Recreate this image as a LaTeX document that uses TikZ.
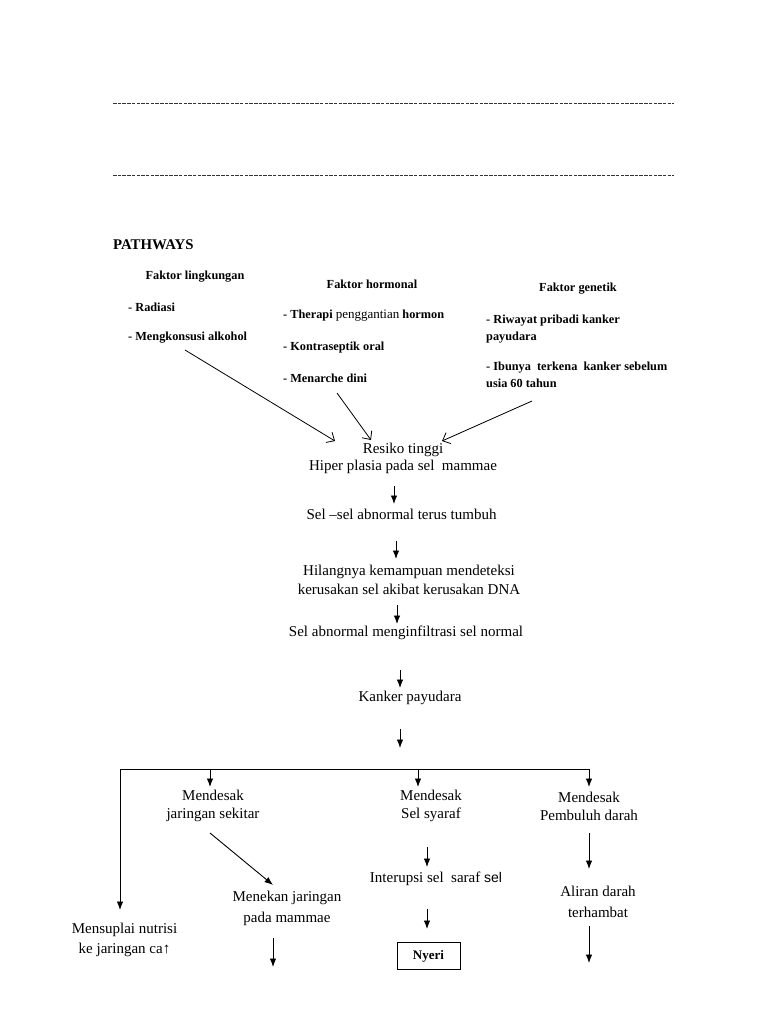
\documentclass[tikz,border=0pt]{standalone}
\usepackage{fontspec}
\setmainfont{Liberation Serif}
\setsansfont{Liberation Sans}
\usetikzlibrary{arrows.meta,calc}
\begin{document}
\begin{tikzpicture}[x=1pt,y=-1pt,
  txt/.style={font=\fontsize{15}{18}\selectfont, inner sep=0pt, align=center},
  hd/.style={font=\bfseries\fontsize{12.3}{17.5}\selectfont, inner sep=0pt, align=left},
  arr/.style={-{Latex[length=8.5pt,width=6.5pt]}, line width=0.9pt},
  openarr/.style={-{Straight Barb[length=6.5pt,width=12pt]}, line width=0.8pt},
  plain/.style={line width=0.9pt},
  dashline/.style={line width=0.9pt, black!80, dash pattern=on 3.5pt off 1.2pt}]
\useasboundingbox (0,0) rectangle (768,1024);
% header dashed lines
\coordinate (d1a) at (113,103); \coordinate (d1b) at (674,103);
\coordinate (d2a) at (113,175); \coordinate (d2b) at (674,175);
\draw[dashline] (d1a) -- (d1b);
\draw[dashline] (d2a) -- (d2b);
\node[anchor=west, inner sep=0pt, font=\bfseries\fontsize{14.8}{16}\selectfont] (pw) at (113,245) {PATHWAYS};
% factors
\node[hd] (fl) at (195,277) {Faktor lingkungan};
\node[hd, anchor=west] (l1) at (128,307) {- Radiasi};
\node[hd, anchor=west] (l2) at (128,338) {- Mengkonsusi alkohol};
\node[hd] (fh) at (372,284) {Faktor hormonal};
\node[hd, anchor=west] (h1) at (283,316) {- Therapi {\mdseries\fontsize{13}{14}\selectfont penggantian} hormon};
\node[hd, anchor=west] (h2) at (283,348) {- Kontraseptik oral};
\node[hd, anchor=west] (h3) at (283,378) {- Menarche dini};
\node[hd] (fg) at (578,289) {Faktor genetik};
\node[hd, anchor=west] (g1) at (486,329) {- Riwayat pribadi kanker\\payudara};
\node[hd, anchor=west] (g2) at (486,375) {- Ibunya\ \ terkena\ \ kanker sebelum\\usia 60 tahun};
% main chain
\node[txt, font=\fontsize{15}{17.5}\selectfont] (r) at (403,458.5) {Resiko tinggi\\Hiper plasia pada sel\ \ mammae};
\node[txt] (s) at (401.5,514) {Sel –sel abnormal terus tumbuh};
\node[txt, font=\fontsize{15}{19}\selectfont] (h) at (409,580) {Hilangnya kemampuan mendeteksi\\kerusakan sel akibat kerusakan DNA};
\node[txt] (i) at (406,633) {Sel abnormal menginfiltrasi sel normal};
\node[txt] (k) at (410,698) {Kanker payudara};
% arrows into resiko
\coordinate (a1s) at (185,350); \coordinate (a1e) at (335,441);
\coordinate (a2s) at (337,393); \coordinate (a2e) at (371,440);
\coordinate (a3s) at (532,401); \coordinate (a3e) at (442,441);
\draw[openarr] (a1s) -- (a1e);
\draw[openarr] (a2s) -- (a2e);
\draw[openarr] (a3s) -- (a3e);
% chain arrows
\coordinate (c1s) at (394,486); \coordinate (c1e) at (394,504);
\coordinate (c2s) at (396,541); \coordinate (c2e) at (396,559);
\coordinate (c3s) at (397,605); \coordinate (c3e) at (397,624);
\coordinate (c4s) at (400,670); \coordinate (c4e) at (400,688);
\coordinate (c5s) at (400,729); \coordinate (c5e) at (400,748);
\draw[arr] (c1s) -- (c1e);
\draw[arr] (c2s) -- (c2e);
\draw[arr] (c3s) -- (c3e);
\draw[arr] (c4s) -- (c4e);
\draw[arr] (c5s) -- (c5e);
% bus
\coordinate (b0) at (120,769); \coordinate (b1) at (210,769);
\coordinate (b2) at (418,769); \coordinate (b3) at (589,769);
\draw[plain] (b0) -- (b3);
\node[txt] (m1) at (213,806) {Mendesak\\jaringan sekitar};
\node[txt] (m2) at (431,806) {Mendesak\\Sel syaraf};
\node[txt] (m3) at (589,806) {Mendesak\\Pembuluh darah};
\draw[arr] (b1) -- (210,787);
\draw[arr] (b2) -- (418,787);
\draw[arr] (b3) -- (589,787);
% lower nodes
\node[txt, font=\fontsize{15}{20}\selectfont] (n1) at (124.5,940) {Mensuplai nutrisi\\ke jaringan ca↑};
\node[txt, font=\fontsize{15}{21}\selectfont] (n2) at (287,908) {Menekan jaringan\\pada mammae};
\node[txt] (n3) at (436,879) {Interupsi sel\ \ saraf {\sffamily\fontsize{14}{16}\selectfont sel}};
\node[txt, font=\fontsize{15}{20.5}\selectfont] (n4) at (598,902) {Aliran darah\\terhambat};
\node[draw, line width=0.9pt, minimum width=63pt, minimum height=27pt, inner sep=0pt,
      font=\bfseries\fontsize{13}{16}\selectfont] (ny) at (428.5,956) {Nyeri};
\draw[arr] (b0) -- (120,910);
\coordinate (e1s) at (210,833); \coordinate (e1e) at (273,885);
\draw[arr] (e1s) -- (e1e);
\coordinate (e2s) at (589,833); \coordinate (e2e) at (589,869);
\draw[arr] (e2s) -- (e2e);
\coordinate (e3s) at (427,847); \coordinate (e3e) at (427,867);
\draw[arr] (e3s) -- (e3e);
\coordinate (e4s) at (427,909); \coordinate (e4e) at (427,929);
\draw[arr] (e4s) -- (e4e);
\coordinate (e5s) at (273,938); \coordinate (e5e) at (273,967);
\draw[arr] (e5s) -- (e5e);
\coordinate (e6s) at (589,926); \coordinate (e6e) at (589,963);
\draw[arr] (e6s) -- (e6e);
\end{tikzpicture}
\end{document}
